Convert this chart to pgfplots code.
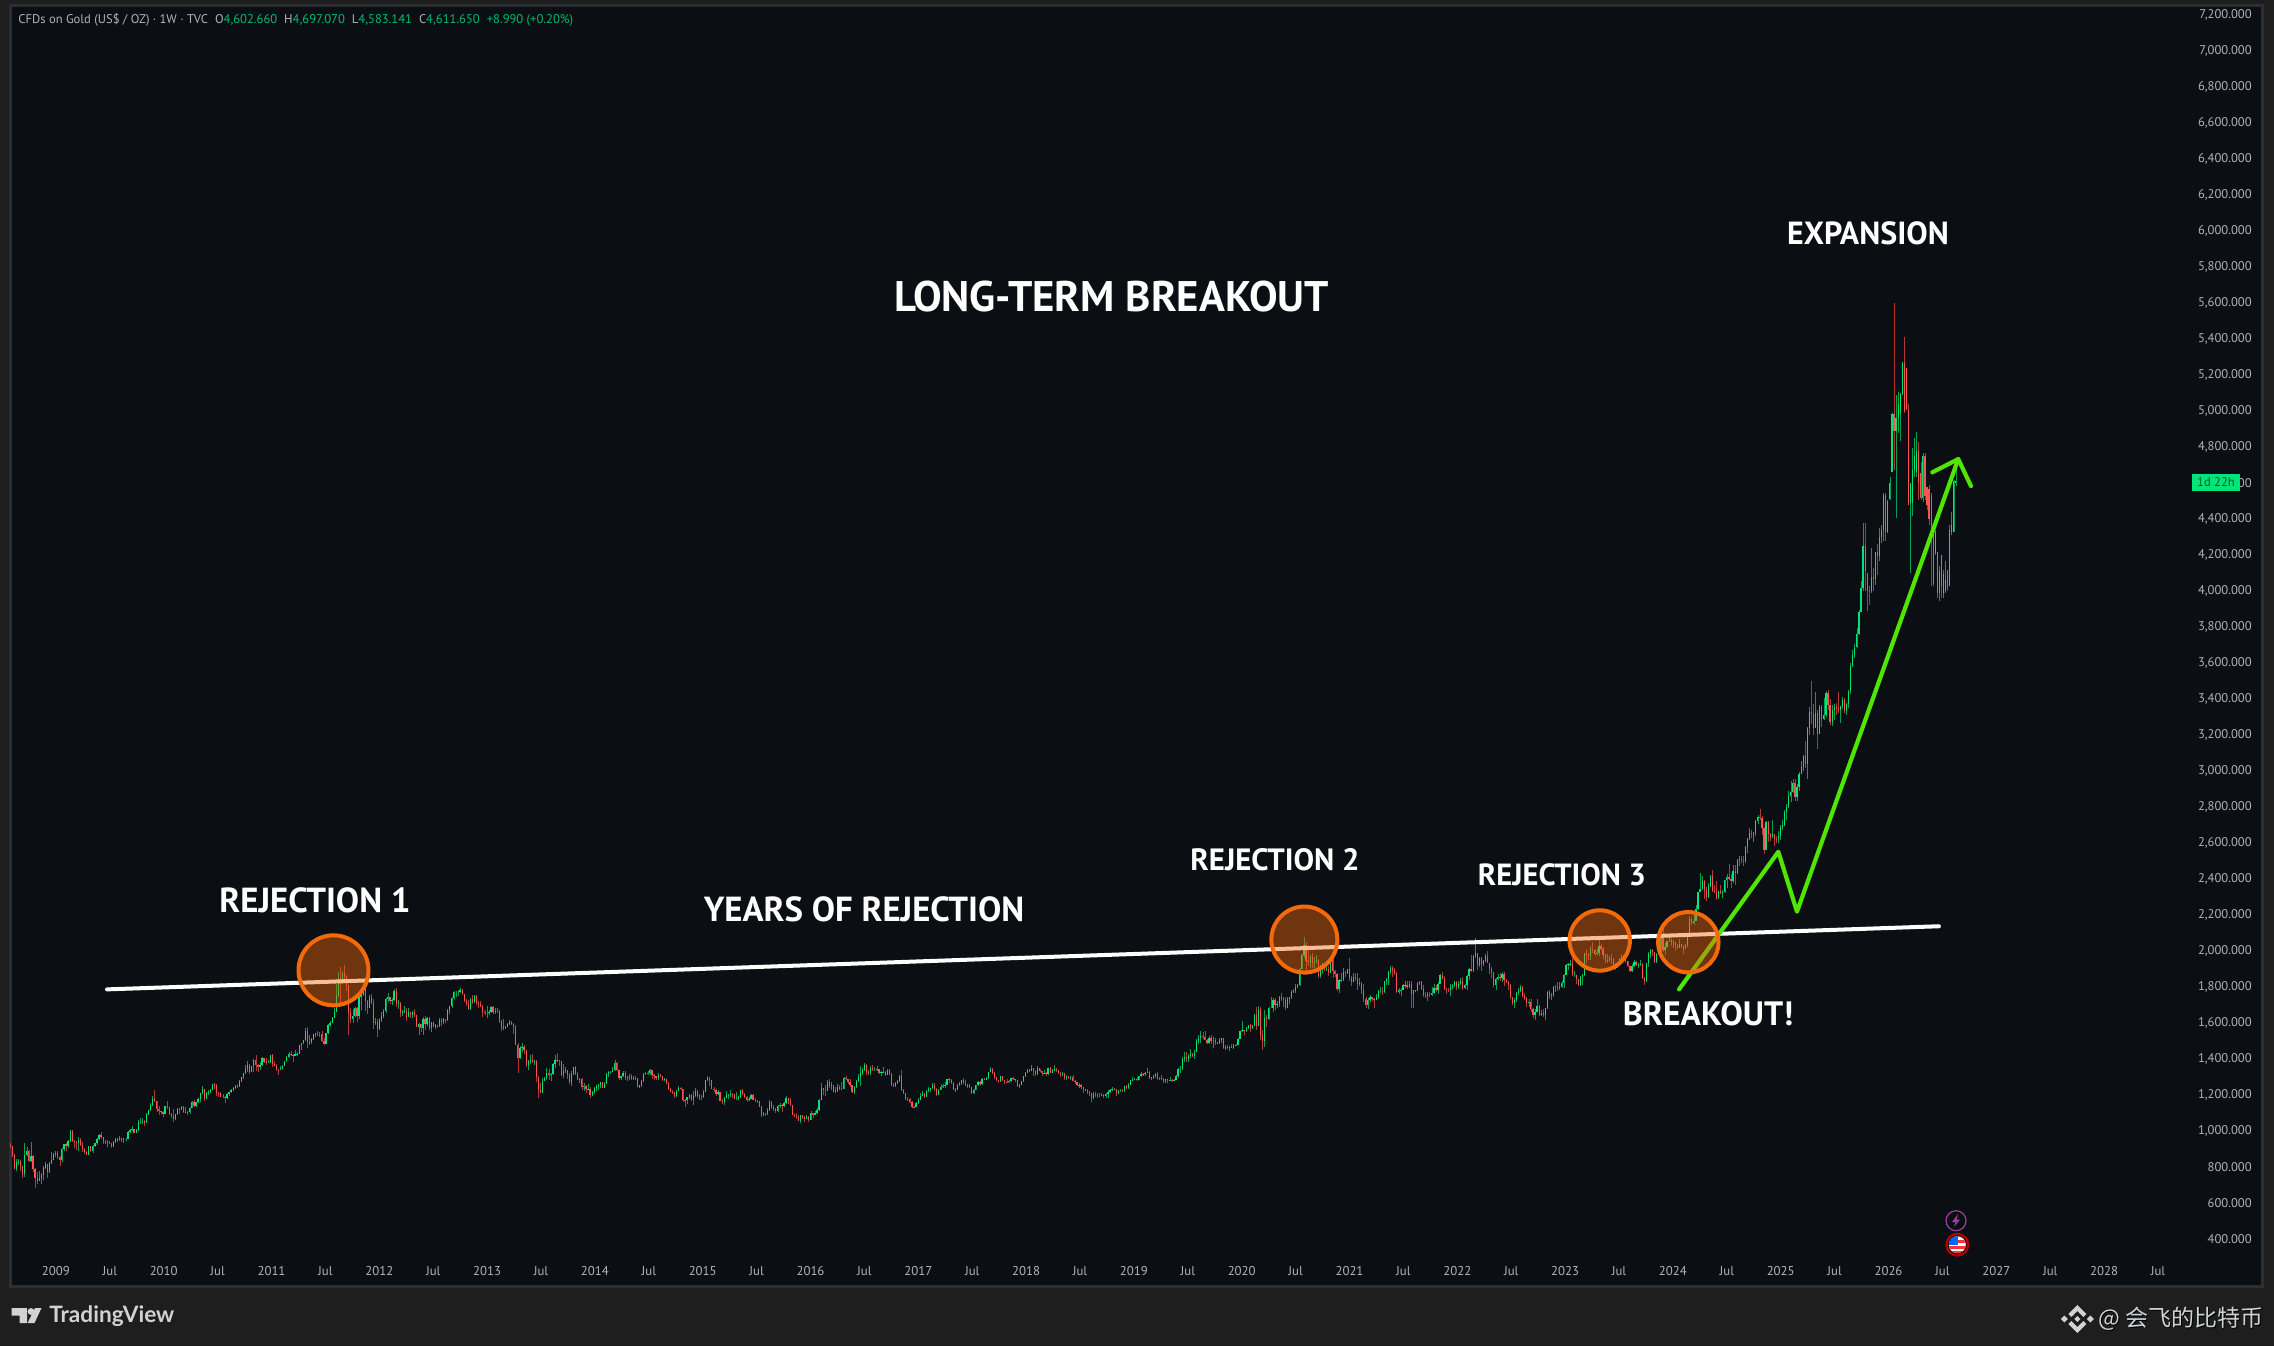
\documentclass[border=0pt]{standalone}
\usepackage{fontspec}
\setmainfont{PT Sans}
\newfontfamily\cjk{Noto Sans CJK SC}
\newfontfamily\tvfont{Lato}
\usepackage{pgfplots}
\usepackage{pgfplotstable}
\pgfplotsset{compat=1.18}
\definecolor{outer}{HTML}{1E1E1E}
\definecolor{pane}{HTML}{0B0E13}
\definecolor{edge}{HTML}{2B2E32}
\definecolor{tick}{HTML}{B2B4B8}
\definecolor{soft}{HTML}{D0D2D4}
\definecolor{upc}{HTML}{00E676}
\definecolor{dnc}{HTML}{FF5252}
\definecolor{val}{HTML}{00BD70}
\definecolor{orng}{HTML}{F26A0A}
\definecolor{lime}{HTML}{4FE600}
\pgfplotstableread{
o h l c
922 932 905 913
913 916 856 866
866 870 786 787
787 845 775 826
826 842 808 833
833 835 775 803
803 806 740 762
762 930 745 868
868 910 860 885
885 895 825 832
832 935 825 860
860 865 770 787
787 795 682 735
735 770 705 722
722 775 720 737
737 765 705 752
752 805 725 792
792 825 790 815
815 818 740 771
771 825 765 820
820 880 815 836
836 875 835 872
872 885 857 878
878 885 845 855
855 860 805 838
838 905 825 899
899 929 888 928
928 931 890 914
914 950 905 942
942 1007 940 1001
1001 1002 936 942
942 948 905 937
937 945 895 930
930 965 885 951
951 959 915 923
923 935 882 900
900 905 870 883
883 888 864 868
868 915 865 913
913 916 880 885
885 919 878 915
915 932 910 930
930 961 922 957
957 982 950 979
979 992 955 963
963 965 926 938
938 950 926 937
937 948 911 940
940 945 925 930
930 934 905 913
913 941 908 938
938 958 932 952
952 960 940 955
955 970 945 958
958 960 936 947
947 960 932 955
955 960 941 955
955 999 952 995
995 1010 990 1006
1006 1025 1000 1010
1010 1012 985 990
990 1010 985 1003
1003 1060 997 1050
1050 1070 1040 1050
1050 1070 1040 1057
1057 1062 1025 1045
1045 1100 1045 1095
1095 1118 1085 1115
1115 1154 1110 1145
1145 1195 1138 1177
1177 1227 1160 1163
1163 1166 1105 1120
1120 1140 1090 1110
1110 1112 1095 1104
1104 1110 1075 1096
1096 1140 1093 1138
1138 1163 1120 1130
1130 1133 1085 1092
1092 1100 1072 1083
1083 1123 1050 1065
1065 1095 1060 1092
1092 1125 1090 1120
1120 1125 1095 1119
1119 1140 1115 1134
1134 1136 1100 1102
1102 1130 1100 1107
1107 1110 1087 1105
1105 1130 1095 1126
1126 1165 1125 1162
1162 1170 1133 1137
1137 1160 1130 1158
1158 1180 1155 1179
1179 1210 1162 1209
1209 1249 1205 1230
1230 1232 1166 1177
1177 1216 1175 1212
1212 1225 1197 1218
1218 1235 1212 1227
1227 1262 1224 1258
1258 1266 1230 1256
1256 1262 1195 1211
1211 1215 1190 1209
1209 1213 1187 1189
1189 1207 1180 1189
1189 1192 1157 1181
1181 1210 1178 1205
1205 1215 1193 1215
1215 1233 1212 1228
1228 1242 1220 1237
1237 1254 1235 1247
1247 1258 1240 1246
1246 1280 1245 1275
1275 1299 1270 1297
1297 1320 1288 1319
1319 1364 1315 1346
1346 1388 1328 1368
1368 1372 1318 1328
1328 1360 1324 1358
1358 1398 1325 1394
1394 1424 1330 1367
1367 1373 1329 1352
1352 1380 1340 1363
1363 1410 1358 1406
1406 1406 1378 1385
1385 1405 1365 1379
1379 1392 1375 1380
1380 1423 1378 1421
1421 1425 1354 1369
1369 1389 1358 1360
1360 1372 1330 1343
1343 1345 1308 1341
1341 1360 1339 1349
1349 1368 1340 1361
1361 1388 1358 1388
1388 1416 1387 1409
1409 1440 1405 1429
1429 1445 1413 1421
1421 1425 1380 1416
1416 1447 1415 1426
1426 1440 1414 1429
1429 1476 1427 1475
1475 1487 1450 1486
1486 1505 1485 1504
1504 1570 1500 1556
1556 1578 1462 1491
1491 1530 1478 1493
1493 1515 1480 1511
1511 1537 1505 1536
1536 1545 1520 1542
1542 1552 1525 1540
1540 1550 1520 1540
1540 1557 1495 1498
1498 1515 1478 1483
1483 1545 1480 1541
1541 1594 1540 1590
1590 1610 1578 1601
1601 1632 1600 1628
1628 1682 1625 1663
1663 1817 1660 1747
1747 1880 1745 1852
1852 1912 1705 1827
1827 1890 1823 1877
1877 1921 1820 1856
1856 1865 1775 1810
1810 1812 1535 1657
1657 1680 1600 1622
1622 1675 1600 1636
1636 1690 1630 1682
1682 1690 1605 1638
1638 1762 1620 1746
1746 1765 1670 1755
1755 1803 1750 1788
1788 1790 1665 1724
1724 1725 1650 1685
1685 1753 1680 1746
1746 1762 1705 1713
1713 1730 1565 1597
1597 1625 1590 1606
1606 1620 1523 1565
1565 1627 1560 1617
1617 1660 1605 1639
1639 1675 1625 1665
1665 1738 1655 1731
1731 1765 1715 1741
1741 1745 1705 1720
1720 1740 1700 1725
1725 1790 1722 1776
1776 1792 1690 1711
1711 1725 1675 1712
1712 1715 1635 1655
1655 1672 1640 1662
1662 1695 1655 1668
1668 1680 1612 1631
1631 1680 1630 1659
1659 1662 1625 1642
1642 1668 1628 1663
1663 1675 1632 1642
1642 1645 1575 1579
1579 1600 1530 1592
1592 1595 1550 1572
1572 1632 1532 1622
1622 1640 1560 1591
1591 1630 1580 1627
1627 1630 1562 1572
1572 1605 1550 1604
1604 1605 1575 1579
1579 1595 1566 1589
1589 1590 1570 1583
1583 1625 1575 1618
1618 1625 1580 1604
1604 1625 1595 1621
1621 1624 1598 1616
1616 1675 1612 1671
1671 1695 1650 1691
1691 1742 1685 1739
1739 1775 1725 1772
1772 1779 1745 1772
1772 1780 1750 1772
1772 1795 1765 1780
1780 1787 1755 1758
1758 1760 1718 1724
1724 1730 1695 1711
1711 1725 1673 1676
1676 1740 1672 1730
1730 1755 1705 1714
1714 1755 1710 1751
1751 1755 1700 1713
1713 1720 1684 1704
1704 1722 1690 1696
1696 1700 1635 1658
1658 1670 1645 1656
1656 1695 1625 1656
1656 1672 1645 1661
1661 1695 1655 1686
1686 1695 1650 1658
1658 1680 1650 1667
1667 1680 1655 1667
1667 1670 1600 1610
1610 1615 1555 1573
1573 1620 1562 1575
1575 1585 1565 1577
1577 1598 1575 1592
1592 1615 1590 1606
1606 1612 1590 1596
1596 1600 1540 1576
1576 1590 1475 1476
1476 1490 1321 1405
1405 1470 1400 1462
1462 1488 1440 1464
1464 1475 1425 1448
1448 1450 1355 1366
1366 1395 1340 1386
1386 1420 1370 1392
1392 1425 1375 1383
1383 1395 1365 1387
1387 1395 1270 1297
1297 1305 1180 1224
1224 1268 1208 1212
1212 1295 1208 1277
1277 1300 1275 1292
1292 1348 1280 1322
1322 1345 1285 1310
1310 1320 1275 1314
1314 1378 1310 1374
1374 1420 1350 1396
1396 1434 1385 1395
1395 1395 1360 1387
1387 1390 1305 1309
1309 1370 1292 1333
1333 1355 1320 1338
1338 1340 1290 1310
1310 1320 1260 1272
1272 1330 1250 1315
1315 1355 1310 1352
1352 1361 1310 1315
1315 1325 1280 1286
1286 1295 1265 1288
1288 1295 1225 1244
1244 1265 1222 1250
1250 1255 1210 1230
1230 1262 1225 1235
1235 1245 1185 1197
1197 1220 1195 1213
1213 1246 1205 1237
1237 1255 1220 1247
1247 1260 1225 1254
1254 1272 1237 1270
1270 1270 1238 1240
1240 1270 1238 1262
1262 1320 1260 1318
1318 1332 1300 1324
1324 1334 1320 1326
1326 1355 1325 1340
1340 1392 1335 1379
1379 1382 1330 1336
1336 1340 1285 1294
1294 1305 1282 1303
1303 1332 1300 1319
1319 1330 1280 1293
1293 1305 1278 1301
1301 1315 1280 1303
1303 1315 1285 1290
1290 1305 1285 1293
1293 1305 1285 1291
1291 1295 1245 1245
1245 1257 1240 1252
1252 1285 1245 1274
1274 1320 1270 1316
1316 1325 1312 1316
1316 1330 1310 1320
1320 1345 1310 1337
1337 1340 1290 1310
1310 1315 1285 1303
1303 1305 1280 1294
1294 1320 1285 1309
1309 1318 1300 1305
1305 1305 1275 1280
1280 1292 1275 1287
1287 1290 1258 1268
1268 1270 1228 1231
1231 1240 1215 1216
1216 1225 1205 1214
1214 1218 1185 1192
1192 1225 1190 1222
1222 1250 1220 1238
1238 1245 1225 1231
1231 1235 1160 1171
1171 1178 1130 1169
1169 1190 1150 1186
1186 1205 1175 1197
1197 1205 1165 1175
1175 1222 1145 1191
1191 1238 1190 1222
1222 1225 1185 1195
1195 1205 1170 1195
1195 1200 1170 1186
1186 1225 1180 1216
1216 1282 1215 1280
1280 1307 1275 1293
1293 1298 1250 1283
1283 1285 1232 1234
1234 1245 1217 1227
1227 1230 1195 1204
1204 1225 1197 1213
1213 1215 1163 1167
1167 1176 1150 1158
1158 1188 1142 1184
1184 1220 1180 1199
1199 1205 1178 1201
1201 1225 1190 1207
1207 1210 1183 1203
1203 1205 1175 1178
1178 1215 1170 1178
1178 1195 1170 1188
1188 1228 1182 1225
1225 1232 1200 1205
1205 1210 1180 1190
1190 1195 1160 1169
1169 1190 1165 1179
1179 1205 1175 1201
1201 1205 1170 1173
1173 1180 1160 1168
1168 1170 1155 1163
1163 1165 1130 1131
1131 1135 1077 1085
1085 1105 1080 1094
1094 1098 1082 1094
1094 1125 1090 1113
1113 1170 1112 1160
1160 1168 1120 1133
1133 1145 1110 1121
1121 1125 1098 1108
1108 1142 1105 1138
1138 1157 1125 1145
1145 1150 1105 1138
1138 1160 1130 1156
1156 1191 1150 1182
1182 1182 1150 1163
1163 1180 1140 1141
1141 1145 1085 1088
1088 1095 1075 1081
1081 1098 1063 1077
1077 1090 1052 1057
1057 1090 1045 1085
1085 1090 1065 1076
1076 1080 1047 1066
1066 1085 1065 1075
1075 1080 1050 1060
1060 1112 1058 1098
1098 1100 1072 1089
1089 1110 1085 1097
1097 1128 1095 1116
1116 1175 1110 1173
1173 1263 1170 1238
1238 1240 1200 1227
1227 1252 1195 1222
1222 1280 1220 1270
1270 1287 1238 1249
1249 1270 1225 1254
1254 1255 1215 1217
1217 1245 1208 1222
1222 1260 1218 1243
1243 1255 1225 1234
1234 1270 1232 1232
1232 1300 1232 1293
1293 1305 1280 1290
1290 1290 1260 1272
1272 1290 1245 1252
1252 1255 1212 1216
1216 1248 1205 1243
1243 1285 1240 1276
1276 1316 1270 1298
1298 1358 1250 1322
1322 1350 1310 1340
1340 1375 1335 1366
1366 1370 1310 1327
1327 1340 1310 1322
1322 1358 1312 1351
1351 1368 1330 1336
1336 1355 1330 1336
1336 1358 1335 1341
1341 1345 1315 1321
1321 1330 1302 1326
1326 1352 1325 1328
1328 1332 1305 1310
1310 1343 1308 1337
1337 1343 1310 1316
1316 1320 1250 1257
1257 1265 1245 1251
1251 1272 1245 1267
1267 1285 1262 1275
1275 1308 1270 1304
1304 1338 1220 1225
1225 1230 1205 1208
1208 1212 1172 1178
1178 1188 1165 1176
1176 1180 1155 1159
1159 1164 1125 1134
1134 1140 1125 1133
1133 1160 1130 1152
1152 1182 1150 1173
1173 1208 1170 1196
1196 1220 1195 1205
1205 1210 1180 1190
1190 1226 1188 1220
1220 1245 1215 1234
1234 1240 1216 1236
1236 1265 1230 1257
1257 1264 1223 1234
1234 1236 1195 1201
1201 1232 1198 1229
1229 1260 1225 1244
1244 1258 1240 1249
1249 1270 1240 1254
1254 1290 1252 1288
1288 1296 1265 1284
1284 1290 1260 1268
1268 1270 1225 1227
1227 1237 1215 1228
1228 1262 1226 1254
1254 1270 1248 1268
1268 1280 1255 1280
1280 1296 1260 1266
1266 1280 1250 1253
1253 1258 1240 1256
1256 1260 1236 1242
1242 1245 1205 1209
1209 1230 1205 1228
1228 1256 1226 1255
1255 1275 1250 1269
1269 1275 1250 1258
1258 1292 1255 1289
1289 1295 1280 1285
1285 1297 1280 1291
1291 1325 1290 1325
1325 1357 1325 1346
1346 1350 1315 1320
1320 1325 1290 1297
1297 1300 1275 1280
1280 1285 1265 1274
1274 1305 1270 1304
1304 1305 1275 1280
1280 1285 1262 1272
1272 1287 1265 1269
1269 1285 1265 1275
1275 1296 1270 1294
1294 1298 1280 1287
1287 1283 1270 1280
1280 1285 1245 1248
1248 1258 1236 1255
1255 1275 1252 1274
1274 1303 1272 1302
1302 1326 1300 1322
1322 1345 1320 1338
1338 1345 1325 1332
1332 1366 1330 1349
1349 1350 1305 1333
1333 1340 1305 1315
1315 1360 1312 1347
1347 1345 1325 1330
1330 1335 1305 1322
1322 1340 1318 1323
1323 1328 1305 1313
1313 1350 1310 1347
1347 1355 1320 1323
1323 1345 1320 1332
1332 1365 1330 1345
1345 1350 1325 1336
1336 1338 1315 1323
1323 1325 1300 1314
1314 1325 1305 1320
1320 1322 1285 1292
1292 1310 1282 1301
1301 1306 1290 1294
1294 1305 1285 1298
1298 1310 1275 1278
1278 1280 1260 1270
1270 1272 1247 1254
1254 1265 1238 1255
1255 1258 1235 1241
1241 1245 1210 1231
1231 1235 1220 1223
1223 1235 1205 1214
1214 1222 1192 1211
1211 1212 1160 1184
1184 1215 1175 1206
1206 1215 1190 1201
1201 1210 1185 1196
1196 1212 1190 1194
1194 1210 1192 1201
1201 1205 1180 1192
1192 1208 1185 1203
1203 1225 1185 1217
1217 1235 1210 1227
1227 1245 1220 1235
1235 1240 1225 1232
1232 1235 1195 1209
1209 1225 1205 1223
1223 1230 1215 1223
1223 1235 1215 1222
1222 1250 1218 1248
1248 1255 1235 1238
1238 1265 1235 1256
1256 1285 1255 1281
1281 1300 1275 1285
1285 1295 1280 1288
1288 1298 1275 1282
1282 1305 1280 1304
1304 1325 1300 1318
1318 1320 1305 1314
1314 1325 1305 1322
1322 1350 1320 1328
1328 1330 1290 1293
1293 1300 1280 1298
1298 1312 1290 1302
1302 1322 1295 1313
1313 1325 1285 1292
1292 1300 1285 1291
1291 1310 1285 1290
1290 1292 1265 1275
1275 1290 1266 1286
1286 1290 1268 1280
1280 1300 1275 1285
1285 1290 1270 1277
1277 1290 1275 1284
1284 1310 1280 1305
1305 1348 1295 1341
1341 1358 1322 1341
1341 1410 1340 1399
1399 1440 1382 1409
1409 1440 1385 1399
1399 1425 1385 1415
1415 1452 1405 1426
1426 1432 1412 1418
1418 1450 1400 1440
1440 1510 1440 1497
1497 1535 1480 1513
1513 1555 1490 1526
1526 1550 1510 1520
1520 1555 1505 1507
1507 1510 1485 1488
1488 1525 1480 1517
1517 1535 1485 1497
1497 1520 1460 1505
1505 1515 1475 1489
1489 1495 1480 1490
1490 1515 1485 1505
1505 1515 1490 1514
1514 1515 1455 1459
1459 1475 1450 1468
1468 1475 1455 1463
1463 1470 1445 1464
1464 1485 1460 1460
1460 1480 1455 1476
1476 1485 1470 1478
1478 1515 1475 1511
1511 1555 1510 1552
1552 1612 1550 1560
1560 1562 1535 1557
1557 1575 1550 1571
1571 1590 1565 1589
1589 1592 1550 1570
1570 1590 1565 1584
1584 1650 1582 1644
1644 1690 1562 1585
1585 1692 1585 1674
1674 1690 1504 1530
1530 1558 1451 1498
1498 1670 1467 1625
1625 1645 1575 1620
1620 1690 1618 1683
1683 1745 1680 1683
1683 1738 1660 1726
1726 1738 1670 1700
1700 1722 1680 1702
1702 1752 1690 1743
1743 1765 1720 1734
1734 1745 1690 1728
1728 1745 1670 1684
1684 1745 1680 1730
1730 1745 1705 1743
1743 1780 1735 1771
1771 1790 1765 1775
1775 1818 1765 1798
1798 1815 1795 1809
1809 1905 1805 1901
1901 1985 1900 1975
1975 2075 1960 2035
2035 2050 1865 1944
1944 2015 1915 1940
1940 1975 1905 1964
1964 1990 1905 1933
1933 1965 1905 1940
1940 1975 1930 1950
1950 1955 1850 1861
1861 1920 1850 1900
1900 1935 1875 1930
1930 1935 1890 1899
1899 1930 1890 1902
1902 1915 1860 1878
1878 1955 1875 1951
1951 1965 1850 1889
1889 1895 1855 1870
1870 1875 1775 1788
1788 1845 1765 1838
1838 1875 1825 1839
1839 1905 1835 1881
1881 1888 1855 1877
1877 1900 1870 1898
1898 1960 1830 1849
1849 1860 1805 1829
1829 1875 1825 1856
1856 1875 1835 1848
1848 1875 1785 1814
1814 1850 1805 1823
1823 1825 1760 1784
1784 1815 1715 1734
1734 1745 1680 1700
1700 1738 1675 1727
1727 1755 1718 1745
1745 1745 1720 1732
1732 1740 1680 1729
1729 1758 1725 1744
1744 1785 1730 1777
1777 1797 1765 1777
1777 1798 1755 1769
1769 1835 1765 1831
1831 1850 1810 1844
1844 1890 1810 1881
1881 1915 1870 1905
1905 1915 1855 1892
1892 1903 1865 1879
1879 1880 1765 1769
1769 1795 1760 1781
1781 1795 1750 1784
1784 1815 1790 1808
1808 1835 1795 1812
1812 1830 1790 1802
1802 1832 1795 1814
1814 1830 1685 1763
1763 1785 1680 1780
1780 1785 1770 1781
1781 1825 1775 1819
1819 1835 1810 1828
1828 1835 1780 1787
1787 1810 1745 1754
1754 1770 1738 1751
1751 1770 1722 1761
1761 1770 1745 1757
1757 1800 1750 1768
1768 1815 1760 1793
1793 1810 1770 1783
1783 1825 1760 1818
1818 1870 1815 1865
1865 1880 1845 1846
1846 1860 1780 1788
1788 1795 1760 1784
1784 1795 1770 1783
1783 1815 1752 1798
1798 1815 1790 1808
1808 1830 1800 1829
1829 1832 1785 1797
1797 1830 1790 1817
1817 1850 1810 1835
1835 1855 1780 1792
1792 1815 1790 1808
1808 1865 1785 1859
1859 1905 1840 1899
1899 1975 1880 1889
1889 1975 1885 1970
1970 2070 1960 1989
1989 1990 1895 1921
1921 1965 1910 1958
1958 1965 1890 1925
1925 1950 1915 1945
1945 1980 1940 1974
1974 1998 1930 1932
1932 1935 1872 1897
1897 1910 1850 1883
1883 1885 1798 1811
1811 1850 1785 1846
1846 1870 1840 1853
1853 1875 1830 1851
1851 1880 1825 1871
1871 1880 1805 1840
1840 1845 1820 1827
1827 1830 1785 1811
1811 1815 1730 1742
1742 1745 1700 1708
1708 1738 1680 1727
1727 1770 1715 1766
1766 1795 1755 1775
1775 1808 1770 1802
1802 1805 1745 1747
1747 1765 1725 1738
1738 1745 1690 1712
1712 1730 1690 1716
1716 1735 1660 1675
1675 1680 1625 1644
1644 1675 1615 1661
1661 1730 1660 1695
1695 1700 1640 1644
1644 1670 1640 1657
1657 1675 1635 1645
1645 1685 1617 1681
1681 1775 1675 1771
1771 1785 1735 1751
1751 1765 1725 1755
1755 1805 1745 1797
1797 1810 1770 1797
1797 1825 1775 1793
1793 1825 1785 1798
1798 1832 1795 1824
1824 1870 1795 1866
1866 1925 1865 1921
1921 1935 1895 1926
1926 1950 1915 1928
1928 1960 1860 1865
1865 1890 1855 1865
1865 1865 1818 1842
1842 1845 1805 1811
1811 1858 1805 1856
1856 1870 1810 1868
1868 1990 1860 1989
1989 2010 1935 1978
1978 1990 1950 1969
1969 2025 1950 2008
2008 2048 1990 2004
2004 2010 1970 1982
1982 2010 1975 1990
1990 2080 1970 2025
2025 2040 2005 2011
2011 2020 1955 1977
1977 1985 1935 1946
1946 1985 1935 1948
1948 1970 1940 1961
1961 1985 1925 1957
1957 1960 1910 1921
1921 1935 1893 1919
1919 1935 1905 1925
1925 1960 1915 1955
1955 1985 1955 1962
1962 1975 1942 1959
1959 1975 1930 1943
1943 1945 1910 1914
1914 1915 1885 1889
1889 1925 1885 1915
1915 1950 1910 1940
1940 1945 1915 1919
1919 1930 1905 1924
1924 1950 1915 1925
1925 1930 1845 1849
1849 1855 1810 1833
1833 1935 1825 1932
1932 1995 1910 1981
1981 2010 1960 2006
2006 2010 1970 1992
1992 1995 1935 1940
1940 1990 1930 1981
1981 2020 1980 2001
2001 2075 2000 2072
2072 2135 1995 2004
2004 2045 1975 2019
2019 2055 2015 2053
2053 2085 2050 2063
2063 2078 2025 2045
2045 2060 2015 2049
2049 2050 2000 2029
2029 2040 2010 2018
2018 2065 2015 2039
2039 2040 2015 2024
2024 2032 1985 2013
2013 2040 2010 2035
2035 2085 2020 2083
2083 2195 2080 2179
2179 2185 2145 2155
2155 2222 2145 2165
2165 2255 2165 2232
2232 2330 2230 2329
2329 2431 2325 2344
2344 2418 2340 2391
2391 2395 2290 2337
2337 2355 2280 2302
2302 2378 2295 2360
2360 2422 2355 2415
2415 2450 2325 2334
2334 2365 2320 2327
2327 2388 2285 2294
2294 2335 2290 2333
2333 2368 2315 2321
2321 2340 2295 2326
2326 2395 2320 2392
2392 2425 2352 2411
2411 2484 2395 2400
2400 2430 2350 2387
2387 2478 2380 2443
2443 2480 2365 2431
2431 2510 2425 2507
2507 2530 2470 2512
2512 2526 2490 2503
2503 2530 2470 2497
2497 2585 2490 2577
2577 2625 2545 2622
2622 2685 2615 2658
2658 2670 2625 2653
2653 2660 2605 2657
2657 2725 2640 2721
2721 2758 2705 2747
2747 2790 2725 2736
2736 2750 2645 2685
2685 2690 2537 2563
2563 2720 2560 2715
2715 2722 2605 2650
2650 2655 2613 2633
2633 2725 2630 2648
2648 2650 2585 2622
2622 2640 2600 2621
2621 2665 2600 2639
2639 2698 2615 2690
2690 2725 2670 2702
2702 2785 2695 2771
2771 2818 2730 2798
2798 2887 2795 2861
2861 2942 2830 2883
2883 2955 2880 2936
2936 2957 2835 2858
2858 2930 2833 2910
2910 2995 2890 2984
2984 3057 2985 3023
3023 3090 3000 3084
3084 3168 3015 3037
3037 3245 2957 3237
3237 3358 3200 3327
3327 3500 3260 3319
3319 3370 3200 3241
3241 3440 3240 3325
3325 3338 3120 3205
3205 3365 3205 3357
3357 3365 3245 3289
3289 3405 3285 3310
3310 3446 3300 3433
3433 3450 3340 3368
3368 3400 3255 3273
3273 3365 3248 3337
3337 3375 3282 3355
3355 3377 3310 3350
3350 3440 3325 3337
3337 3345 3268 3363
3363 3410 3345 3397
3397 3405 3325 3336
3336 3378 3312 3372
3372 3450 3350 3447
3447 3600 3430 3586
3586 3674 3580 3643
3643 3707 3627 3685
3690 3793 3683 3760
3760 3897 3757 3886
3886 4054 3886 4016
4016 4378 3998 4248
4248 4378 4000 4112
4100 4100 3887 4002
4002 4027 3925 4000
4000 4239 3989 4081
4081 4128 3998 4065
4065 4220 4035 4218
4218 4262 4091 4197
4197 4350 4165 4300
4300 4368 4267 4338
4338 4544 4276 4532
4532 4544 4276 4330
4330 4507 4322 4500
4510 4637 4507 4600
4660 4990 4660 4985
4985 5600 4674 4890
4890 5091 4405 4965
4965 5109 4878 5040
4990 5100 4837 5095
5095 5276 5090 5270
5270 5415 4992 5000
5239 5239 5007 5010
5005 5041 4480 4480
4489 4600 4100 4600
4489 4794 4415 4674
4674 4850 4637 4750
4660 4883 4637 4780
4780 4831 4507 4600
4655 4720 4507 4520
4520 4767 4498 4750
4750 4767 4507 4530
4581 4581 4452 4480
4570 4591 4368 4400
4535 4544 4026 4360
4378 4378 4026 4040
4210 4341 4202 4330
4220 4220 3961 3990
3990 4137 3943 4110
4202 4202 3961 4030
3990 4118 3961 4095
4000 4165 3989 4060
4118 4118 3998 4020
4030 4368 4026 4340
4330 4442 4313 4370
4330 4618 4331 4612
4603 4697 4583 4612
}\bars
\def\xe{2008.577+\coordindex*0.019139}
\begin{document}
\begin{tikzpicture}[x=0.5pt,y=-0.5pt]
\useasboundingbox (0,0) rectangle (2274,1346);
\fill[outer] (0,0) rectangle (2274,1346);
\begin{axis}[
 at={(5pt,-643pt)},anchor=south west,
 scale only axis,width=1126pt,height=640.5pt,
 xmin=2008.574,xmax=2029.465,ymin=137,ymax=7258,
 axis background/.style={fill=pane},
 axis line style={edge,line width=1.5pt},
 tick style={draw=none},
 ytick={400,600,800,1000,1200,1400,1600,1800,2000,2200,2400,2600,2800,3000,3200,3400,3600,3800,4000,4200,4400,4600,4800,5000,5200,5400,5600,5800,6000,6200,6400,6600,6800,7000,7200},
 yticklabels={400.000,600.000,800.000,1{,}000.000,1{,}200.000,1{,}400.000,1{,}600.000,1{,}800.000,2{,}000.000,2{,}200.000,2{,}400.000,2{,}600.000,2{,}800.000,3{,}000.000,3{,}200.000,3{,}400.000,3{,}600.000,3{,}800.000,4{,}000.000,4{,}200.000,4{,}400.000,00,4{,}800.000,5{,}000.000,5{,}200.000,5{,}400.000,5{,}600.000,5{,}800.000,6{,}000.000,6{,}200.000,6{,}400.000,6{,}600.000,6{,}800.000,7{,}000.000,7{,}200.000},
 yticklabel pos=right,
 yticklabel style={anchor=east,xshift=-5pt,inner sep=0pt,font=\fontsize{6.3pt}{7pt}\selectfont,text=tick},
 xtick={2009,2009.5,2010,2010.5,2011,2011.5,2012,2012.5,2013,2013.5,2014,2014.5,2015,2015.5,2016,2016.5,2017,2017.5,2018,2018.5,2019,2019.5,2020,2020.5,2021,2021.5,2022,2022.5,2023,2023.5,2024,2024.5,2025,2025.5,2026,2026.5,2027,2027.5,2028,2028.5},
 xticklabels={2009,Jul,2010,Jul,2011,Jul,2012,Jul,2013,Jul,2014,Jul,2015,Jul,2016,Jul,2017,Jul,2018,Jul,2019,Jul,2020,Jul,2021,Jul,2022,Jul,2023,Jul,2024,Jul,2025,Jul,2026,Jul,2027,Jul,2028,Jul},
 xticklabel style={anchor=center,yshift=7.7pt,font=\fontsize{6.4pt}{7pt}\selectfont,text=tick},
 clip=true,
]
% candles
\addplot[draw=none,mark=none,forget plot,error bars/.cd,y dir=plus,y explicit,error mark=none,error bar style={upc!70!black,line width=0.3pt}]
 table[x expr=\xe,y expr={\thisrow{c}>=\thisrow{o}?\thisrow{l}:nan},y error plus expr=\thisrow{h}-\thisrow{l}]{\bars};
\addplot[draw=none,mark=none,forget plot,error bars/.cd,y dir=plus,y explicit,error mark=none,error bar style={dnc!70!black,line width=0.3pt}]
 table[x expr=\xe,y expr={\thisrow{c}<\thisrow{o}?\thisrow{l}:nan},y error plus expr=\thisrow{h}-\thisrow{l}]{\bars};
\addplot[draw=none,mark=none,forget plot,error bars/.cd,y dir=plus,y explicit,error mark=none,error bar style={upc,line width=0.6pt}]
 table[x expr=\xe,y expr={\thisrow{c}>=\thisrow{o}?\thisrow{o}:nan},y error plus expr=\thisrow{c}-\thisrow{o}]{\bars};
\addplot[draw=none,mark=none,forget plot,error bars/.cd,y dir=plus,y explicit,error mark=none,error bar style={dnc,line width=0.6pt}]
 table[x expr=\xe,y expr={\thisrow{c}<\thisrow{o}?\thisrow{c}:nan},y error plus expr=\thisrow{o}-\thisrow{c}]{\bars};
% trend line
\addplot[white,line width=2pt,line cap=round] coordinates {(2009.474,1786) (2026.468,2137)};
% circles
\addplot[only marks,mark=*,mark size=17.5pt,mark options={draw=orng,line width=2pt,fill=orng,fill opacity=0.43}] coordinates {(2011.575,1892)};
\addplot[only marks,mark=*,mark size=16.5pt,mark options={draw=orng,line width=2pt,fill=orng,fill opacity=0.43}] coordinates {(2020.581,2063)};
\addplot[only marks,mark=*,mark size=15.1pt,mark options={draw=orng,line width=2pt,fill=orng,fill opacity=0.43}] coordinates {(2023.321,2058) (2024.143,2048)};
% arrows
\addplot[lime,line width=2.1pt,line cap=round,line join=round] coordinates {(2024.057,1786) (2024.978,2551) (2025.151,2218) (2026.647,4734)};
\addplot[lime,line width=2.1pt,line cap=round,line join=round] coordinates {(2026.406,4660) (2026.647,4734) (2026.765,4584)};
\end{axis}
% texts
\node[anchor=west,text=tick,font=\fontsize{6.3pt}{7pt}\selectfont,inner sep=0] at (18,20) {CFDs on Gold (US\$ / OZ) · 1W · TVC\hspace{3.5pt}O\textcolor{val}{4,602.660}\hspace{3.5pt}H\textcolor{val}{4,697.070}\hspace{3.5pt}L\textcolor{val}{4,583.141}\hspace{3.5pt}C\textcolor{val}{4,611.650}\hspace{3.5pt}\textcolor{val}{+8.990 (+0.20\%)}};
\foreach \t/\px/\py/\s in {LONG-TERM BREAKOUT/1112/297/21.4,EXPANSION/1868/233.5/16,REJECTION 1/315/900.6/17.4,YEARS OF REJECTION/864/909/17.4,REJECTION 2/1275/860/15.4,REJECTION 3/1562/874.5/15.3,BREAKOUT!/1708/1014/16.9}
  \node[text=white,font=\fontsize{\s pt}{\s pt}\selectfont\bfseries] at (\px,\py) {\t};
% countdown
\fill[upc] (2192,474) rectangle (2240,491);
\node[text=black!60!upc,font=\fontsize{6.3pt}{7pt}\selectfont] at (2216,482.5) {1d 22h};
% icons
\draw[violet!75!white,line width=0.6pt] (1956,1220.7) circle (10);
\fill[violet!75!white] (1958,1214) -- (1952,1222) -- (1955.5,1222) -- (1954,1227) -- (1960,1219.5) -- (1956.5,1219.5) -- cycle;
\fill[red!70!black] (1957.3,1244.7) circle (12);
\fill[black] (1957.3,1244.7) circle (9.5);
\fill[white] (1957.3,1244.7) circle (8.5);
\begin{scope}
\clip (1957.3,1244.7) circle (8.5);
\fill[red!80] (1949,1240) rectangle (1966,1243);
\fill[red!80] (1949,1246) rectangle (1966,1249);
\fill[red!80] (1949,1251) rectangle (1966,1254);
\fill[blue!60!cyan] (1949,1236) rectangle (1958,1245);
\end{scope}
% logo
\fill[soft] (11.5,1308) -- (27,1308) -- (27,1323) -- (19.5,1323) -- (19.5,1315.5) -- (11.5,1315.5) -- cycle;
\fill[soft] (31,1311.5) circle (3.4);
\fill[soft] (27.5,1323) -- (35,1308) -- (41.5,1308) -- (34.5,1323) -- cycle;
\node[anchor=west,text=soft,font=\tvfont\fontsize{11.3pt}{12pt}\selectfont\bfseries,inner sep=0] at (49,1316) {TradingView};
% watermark
\begin{scope}[shift={(2077.3,1319)}]
\foreach \dx in {-13,13}
  \fill[soft] (\dx-3.5,0) -- (\dx,-3.5) -- (\dx+3.5,0) -- (\dx,3.5) -- cycle;
\fill[soft] (0,-14) -- (9,-5) -- (6,-2) -- (0,-8) -- (-6,-2) -- (-9,-5) -- cycle;
\fill[soft] (0,14) -- (9,5) -- (6,2) -- (0,8) -- (-6,2) -- (-9,5) -- cycle;
\fill[soft] (0,-3) -- (3,0) -- (0,3) -- (-3,0) -- cycle;
\end{scope}
\node[anchor=west,text=black,inner sep=0,font=\fontsize{11.5pt}{12pt}\selectfont\cjk] at (2099,1320) {@ 会飞的比特币};
\node[anchor=west,text=soft,inner sep=0,font=\fontsize{11.5pt}{12pt}\selectfont\cjk] at (2098,1319) {@ 会飞的比特币};
\end{tikzpicture}
\end{document}
